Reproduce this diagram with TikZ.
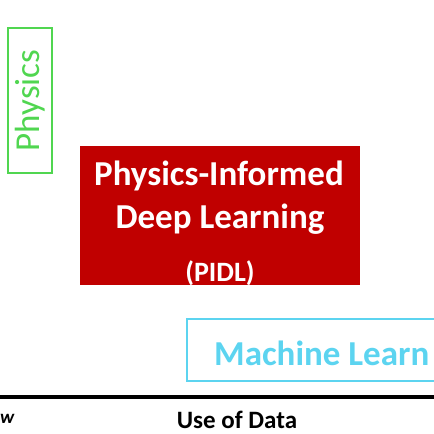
\documentclass[tikz,border=0pt]{standalone}
\usepackage{fontspec}
\setmainfont{Carlito}
\usepackage{xcolor}
\usetikzlibrary{positioning}

\definecolor{physgreen}{RGB}{80,214,80}
\definecolor{pidlred}{RGB}{192,0,0}
\definecolor{mlcyan}{RGB}{92,212,240}

\begin{document}
\begin{tikzpicture}[
    x=1pt, y=-1pt,
    field/.style={rectangle, draw, line width=1.6pt, inner sep=0pt},
    heading/.style={anchor=base, inner sep=0pt, text=white, font=\fontsize{35}{35}\selectfont\bfseries},
    axislabel/.style={anchor=base, inner sep=0pt, font=\fontsize{25}{25}\selectfont\bfseries}
]
\useasboundingbox (0,0) rectangle (434,434);
\clip (0,0) rectangle (434,434);

% physics field (left)
\node[field, draw=physgreen, minimum width=145pt, minimum height=44pt, rotate=90,
      text=physgreen, font=\fontsize{35}{35}\selectfont] (physics) at (30,100.5) {Physics};

% PIDL block
\node[rectangle, fill=pidlred, minimum width=280pt, minimum height=139pt, inner sep=0pt] (pidl) at (220,215.5) {};
\node[heading] (pidlA) at (219,185) {Physics-Informed};
\node[heading] (pidlB) at (220,228) {Deep Learning};
\node[heading, font=\fontsize{28}{28}\selectfont\bfseries] (pidlC) at (220,281) {(PIDL)};

% machine learning field (bottom right)
\node[field, draw=mlcyan, anchor=north west, minimum width=270pt, minimum height=62pt] (ml) at (186,318) {};
\node[heading, anchor=base west, text=mlcyan] (mltext) at (214,365) {Machine Learn};

% axis
\coordinate (axisL) at (0,397);
\coordinate (axisR) at (434,397);
\draw[line width=4pt] (axisL) -- (axisR);
\node[axislabel] (data) at (237,428) {Use of Data};
\node[axislabel, anchor=base west, font=\fontsize{19}{19}\selectfont\bfseries\itshape] (low) at (0,423) {w};

\end{tikzpicture}
\end{document}
